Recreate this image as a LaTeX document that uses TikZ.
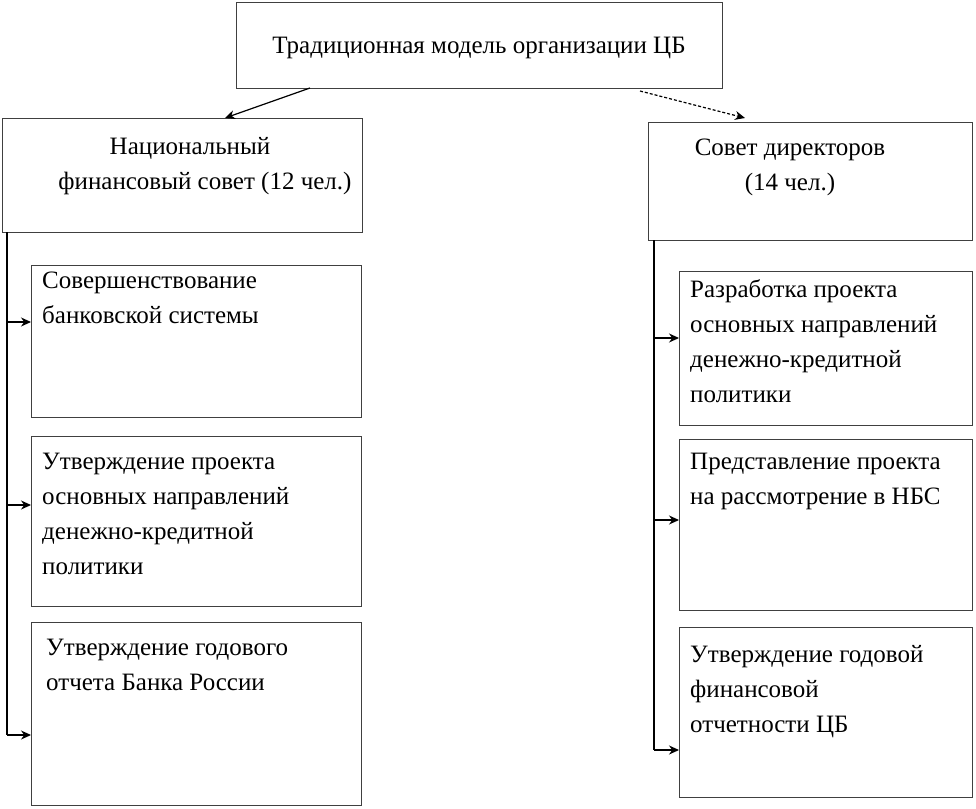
\documentclass[tikz,border=0pt]{standalone}
\usepackage{fontspec}
\setmainfont{Liberation Serif}
\usetikzlibrary{arrows.meta}
\begin{document}
\begin{tikzpicture}[x=1pt,y=-1pt,
  bx/.style={draw=black!75,line width=1pt},
  tx/.style={anchor=north west,align=left,inner sep=0pt,font=\fontsize{25}{35}\selectfont},
  ar/.style={-{Stealth[length=10pt,width=9pt]},line width=1.2pt}]
\useasboundingbox (0,0) rectangle (976,808);
\draw[bx] (236,3) rectangle (722,88);
\node[anchor=base,inner sep=0pt,font=\fontsize{25}{35}\selectfont] (t) at (479,54) {Традиционная модель организации ЦБ};
\draw[bx] (2,118) rectangle (362,232);
\node[anchor=north,align=center,inner sep=0pt,font=\fontsize{25}{35}\selectfont] (lh) at (205,137) {\hspace*{-30pt}Национальный\\финансовый совет (12 чел.)};
\draw[bx] (648,122) rectangle (972,240);
\node[anchor=north,align=center,inner sep=0pt,font=\fontsize{25}{35}\selectfont] (rh) at (790,139) {Совет директоров\\(14 чел.)};
\coordinate (ts) at (310,88); \coordinate (te) at (225,118);
\coordinate (us) at (640,91); \coordinate (ue) at (745,118);
\draw[ar] (ts) -- (te);
\draw[ar,densely dashed] (us) -- (ue);
% left boxes
\draw[bx] (31,265) rectangle (361,417);
\draw[bx] (31,436) rectangle (361,606);
\draw[bx] (31,622) rectangle (361,805);
\node[tx] (l1) at (42,272) {Совершенствование\\банковской системы};
\node[tx] (l2) at (42,453) {Утверждение проекта\\основных направлений\\денежно-кредитной\\политики};
\node[tx] (l3) at (46,639) {Утверждение годового\\отчета Банка России};
% right boxes
\draw[bx] (679,271) rectangle (972,425);
\draw[bx] (679,439) rectangle (972,610);
\draw[bx] (679,627) rectangle (972,797);
\node[tx] (r1) at (690,279) {Разработка проекта\\основных направлений\\денежно-кредитной\\политики};
\node[tx] (r2) at (690,453) {Представление проекта\\на рассмотрение в НБС};
\node[tx] (r3) at (690,645) {Утверждение годовой\\финансовой\\отчетности ЦБ};
% connectors
\draw[line width=1.2pt] (7,232) -- (7,735);
\foreach \y in {322,505,735} \draw[ar] (7,\y) -- (31,\y);
\draw[line width=1.2pt] (654,240) -- (654,750);
\foreach \y in {338,520,750} \draw[ar] (654,\y) -- (679,\y);
\end{tikzpicture}
\end{document}
